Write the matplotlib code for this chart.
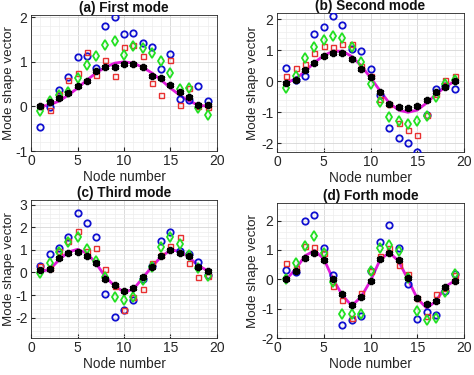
import matplotlib
matplotlib.use("Agg")
import matplotlib.pyplot as plt
import numpy as np
from matplotlib.ticker import MultipleLocator

plt.rcParams['font.family'] = ['Liberation Sans', 'DejaVu Sans']
plt.rcParams['axes.unicode_minus'] = False

nodes = list(range(1, 20))

titles = ["(a) First mode", "(b) Second mode", "(c) Third mode", "(d) Forth mode"]

# Mode (a)
a_blue = [-0.46, -0.01, 0.36, 0.66, 1.10, 1.14, 0.87, 1.81, 2.01, 1.63, 1.65, 1.43, 1.34, 0.84, 1.18, 0.16, 0.15, 0.46, 0.12]
a_red = [0.02, -0.07, 0.27, 0.59, 0.76, 1.22, 0.70, 1.05, 0.69, 1.33, 1.38, 1.13, 0.53, 0.25, 1.03, 0.04, 0.42, 0.0, -0.02]
a_green = [-0.10, 0.13, 0.26, 0.32, 0.64, 0.93, 1.13, 1.37, 1.47, 1.16, 1.35, 1.31, 1.20, 1.01, 0.75, 0.40, 0.41, -0.04, -0.19]
a_black = [0.02, 0.10, 0.18, 0.29, 0.46, 0.58, 0.79, 0.88, 0.88, 0.94, 0.94, 0.89, 0.69, 0.63, 0.47, 0.32, 0.21, 0.04, 0.04]
a_curve = [0.0, 0.03, 0.12, 0.25, 0.41, 0.59, 0.75, 0.88, 0.97, 1.0, 0.97, 0.88, 0.75, 0.59, 0.41, 0.25, 0.12, 0.03, 0.0]

# Mode (b)
b_blue = [0.44, 0.03, 0.16, 1.51, 1.76, 2.10, 1.81, 1.05, 0.97, 0.38, -0.45, -1.50, -1.83, -2.00, -2.27, -1.10, -0.25, -0.15, -0.25]
b_red = [0.16, 0.42, 0.55, 0.92, 1.15, 1.10, 1.21, 1.21, 0.50, 0.16, -0.56, -0.74, -1.34, -1.56, -1.72, -1.10, -0.40, 0.05, 0.16]
b_green = [-0.23, 0.17, 0.75, 1.10, 1.32, 1.45, 1.38, 1.12, 0.62, -0.10, -0.66, -1.15, -1.28, -1.37, -1.28, -1.13, -0.50, -0.08, 0.03]
b_black = [-0.07, 0.03, 0.36, 0.59, 0.82, 0.92, 0.91, 0.73, 0.40, 0.14, -0.36, -0.74, -0.83, -0.86, -0.81, -0.61, -0.34, -0.18, 0.0]
b_curve = [-0.05, 0.08, 0.32, 0.60, 0.83, 0.97, 0.97, 0.80, 0.50, 0.12, -0.30, -0.70, -0.93, -1.0, -0.93, -0.70, -0.42, -0.18, 0.0]

# Mode (c)
c_blue = [0.29, 0.82, 1.10, 1.56, 2.64, 2.18, 1.55, -0.96, -1.97, -1.67, -1.24, -0.30, 0.30, 1.37, 1.78, 0.93, 0.81, 0.44, -0.10]
c_red = [0.30, 0.20, 0.93, 1.40, 1.81, 0.95, 1.07, 0.16, -0.60, -1.68, -1.10, -0.72, 0.40, 0.75, 1.15, 1.56, 0.41, -0.22, -0.18]
c_green = [-0.04, 0.43, 0.92, 1.34, 1.55, 1.03, 0.52, -0.20, -1.10, -1.23, -1.10, -0.32, 0.26, 1.12, 1.57, 1.25, 0.75, 0.19, -0.16]
c_black = [0.12, 0.15, 0.63, 0.85, 0.88, 0.71, 0.41, -0.29, -0.57, -0.84, -0.69, -0.22, 0.26, 0.71, 0.97, 0.85, 0.71, 0.22, 0.07]
c_curve = [0.05, 0.12, 0.55, 0.90, 1.02, 0.85, 0.40, -0.20, -0.60, -0.87, -0.75, -0.25, 0.25, 0.70, 0.98, 0.95, 0.65, 0.30, 0.07]

# Mode (d)
d_blue = [0.32, 0.24, 1.98, 2.20, 1.06, 0.13, -1.54, -1.37, -1.26, 0.30, 1.27, 1.84, 1.08, -0.17, -1.36, -1.11, -1.22, -0.40, 0.17]
d_red = [0.57, 0.38, 1.12, 1.10, 0.89, -0.23, -0.69, -1.33, -0.48, 0.29, 0.81, 1.06, 0.49, 0.17, -0.63, -1.25, -0.50, -0.31, 0.15]
d_green = [0.02, 0.55, 1.14, 1.46, 0.89, -0.10, -1.19, -1.19, -1.19, 0.29, 1.06, 1.18, 0.97, 0.03, -1.09, -1.39, -1.33, -0.42, 0.17]
d_black = [0.0, 0.29, 0.74, 0.89, 0.66, 0.0, -0.50, -0.88, -0.59, -0.05, 0.69, 0.89, 0.66, 0.03, -0.63, -0.85, -0.74, -0.25, -0.06]
d_curve = [0.0, 0.35, 0.80, 0.98, 0.70, 0.0, -0.55, -0.90, -0.60, -0.05, 0.65, 0.92, 0.62, 0.0, -0.65, -0.98, -0.75, -0.25, -0.05]

data = [
    (a_blue, a_red, a_green, a_black, a_curve),
    (b_blue, b_red, b_green, b_black, b_curve),
    (c_blue, c_red, c_green, c_black, c_curve),
    (d_blue, d_red, d_green, d_black, d_curve),
]

W, H = 474, 375
fig = plt.figure(figsize=(W / 100, H / 100), dpi=100)

# axes boxes in pixels: left, top, right, bottom
boxes = [(31, 15, 217, 151), (277, 13, 464, 152), (31, 200, 217, 338), (277, 203, 464, 338)]
ylabel_x = [15, 259, 15, 259]
ylims = [(-1, 2.05), (-2.28, 2.2), (-2.9, 3.2), (-2.0, 2.6)]
yticks = [[-1, 0, 1, 2], [-2, -1, 0, 1, 2], [-2, -1, 0, 1, 2, 3], [-2, -1, 0, 1, 2]]

for i, (box, yl, yt, t, d) in enumerate(zip(boxes, ylims, yticks, titles, data)):
    l, tp, r, b = box
    ax = fig.add_axes([l / W, 1 - b / H, (r - l) / W, (b - tp) / H])
    blue, red, green, black, curve = d
    ax.set_axisbelow(True)
    ax.grid(which='major', color='#d6d6d6', linewidth=0.6)
    ax.grid(which='minor', color='#ededed', linewidth=0.5)
    ax.xaxis.set_minor_locator(MultipleLocator(1))
    ax.yaxis.set_minor_locator(MultipleLocator(0.2))
    ax.plot(nodes, curve, color='#e01ad8', linewidth=2.0, zorder=2)
    ax.plot(nodes, blue, linestyle='none', marker='o', markersize=4.6, markerfacecolor='none',
            markeredgecolor='#1010d0', markeredgewidth=1.3, zorder=3)
    ax.plot(nodes, red, linestyle='none', marker='s', markersize=3.6, markerfacecolor='none',
            markeredgecolor='#e83030', markeredgewidth=1.0, zorder=3)
    ax.plot(nodes, green, linestyle='none', marker='d', markersize=4.8, markerfacecolor='none',
            markeredgecolor='#22e022', markeredgewidth=1.3, zorder=3)
    ax.plot(nodes, black, linestyle='none', marker=(6, 2, 0), markersize=5.2,
            markeredgecolor='black', markeredgewidth=2.0, zorder=4)
    ax.set_xlim(0, 20)
    ax.set_ylim(*yl)
    ax.set_xticks([0, 5, 10, 15, 20])
    ax.set_yticks(yt)
    ax.tick_params(which='both', direction='in', labelsize=10, colors='#262626', length=3, pad=2.5)
    ax.tick_params(which='minor', length=0)
    for s in ax.spines.values():
        s.set_color('#262626')
        s.set_linewidth(0.6)
    ax.set_title(t, fontsize=9.8, fontweight='bold', pad=1.5, color='#111111')
    ax.set_xlabel('Node number', fontsize=9.8, labelpad=1, color='#262626')
    ax.set_ylabel('Mode shape vector', fontsize=9.6, color='#262626')
    ax.yaxis.set_label_coords((ylabel_x[i] - l) / (r - l), 0.5)

fig.savefig('out.png', dpi=100)
